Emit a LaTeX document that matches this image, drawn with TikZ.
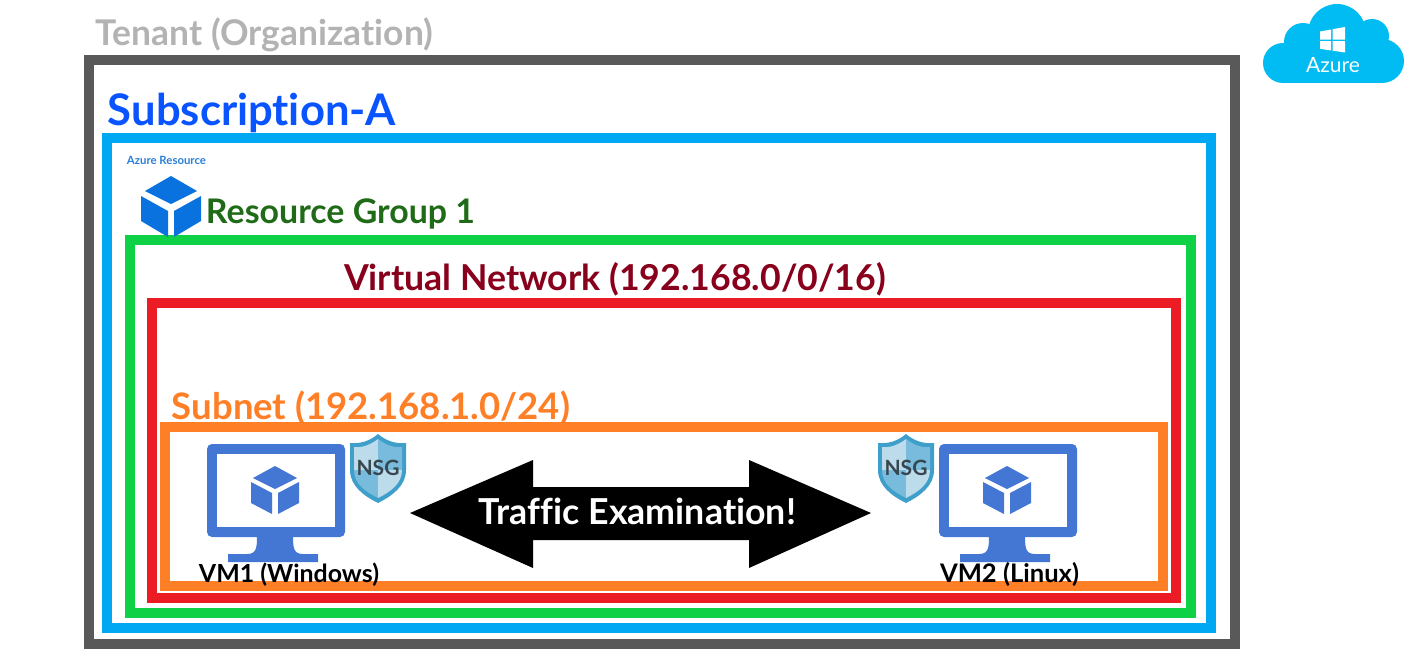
\documentclass[tikz,border=0pt]{standalone}
\usepackage{fontspec}
\setmainfont{Lato}[BoldFont={Lato Bold},Ligatures={NoCommon}]
\usepackage{graphicx}
\definecolor{tenantc}{HTML}{595959}
\definecolor{tenanttxt}{HTML}{B3B3B3}
\definecolor{subc}{HTML}{00A8F3}
\definecolor{subtxt}{HTML}{0A54FF}
\definecolor{rgc}{HTML}{0ED145}
\definecolor{rgtxt}{HTML}{1F6B17}
\definecolor{vnetc}{HTML}{EC1C24}
\definecolor{vnettxt}{HTML}{88001B}
\definecolor{subnetc}{HTML}{FF7F27}
\definecolor{vmblue}{HTML}{4477D3}
\definecolor{cubeblue}{HTML}{0A72DF}
\definecolor{azureres}{HTML}{2A7FD8}
\definecolor{cloudc}{HTML}{00BCF2}
\definecolor{shieldo}{HTML}{3F9FCB}
\definecolor{shieldl}{HTML}{BCDCEC}
\definecolor{shieldm}{HTML}{78BBDC}
\definecolor{nsgtxt}{HTML}{37474F}
\newcommand{\fittext}[3]{\resizebox{#1pt}{!}{\fontsize{#2}{#2}\selectfont\bfseries #3}}
\tikzset{
  frame/.style={line width=10pt,draw=#1},
  lbl/.style={inner sep=0pt,anchor=base,text=#1},
  nsglbl/.style={inner sep=0pt,text=nsgtxt,font=\fontsize{21}{21}\selectfont\bfseries},
  pics/vmicon/.style={code={
    \fill[vmblue,rounded corners=5pt] (0,0) rectangle (138,93);
    \fill[white] (10,10) rectangle (128,83);
    \fill[vmblue] (50,90) .. controls (50,103) and (50,110) .. (40,110) -- (21,110) -- (21,118) -- (111,118) -- (111,110) -- (96,110) .. controls (86,110) and (86,103) .. (86,90) -- cycle;
    \fill[vmblue] (68,22) -- (90,34) -- (68,45) -- (46,34) -- cycle;
    \fill[vmblue] (44,38) -- (65,49) -- (65,70) -- (44,59) -- cycle;
    \fill[vmblue] (71,49) -- (92,38) -- (92,59) -- (71,70) -- cycle;
  }},
  pics/shieldicon/.style={code={
    \fill[shieldo] (28,0) .. controls (36,7) and (46,10) .. (56,9) -- (56,36) .. controls (56,52) and (42,62) .. (28,69) .. controls (14,62) and (0,52) .. (0,36) -- (0,9) .. controls (10,10) and (20,7) .. (28,0) -- cycle;
    \fill[shieldl] (28,5) .. controls (20,11) and (12,14) .. (4,13) -- (4,36) -- (28,36) -- cycle;
    \fill[shieldm] (28,5) .. controls (36,11) and (44,14) .. (52,13) -- (52,36) -- (28,36) -- cycle;
    \fill[shieldm] (4,36) .. controls (4,50) and (16,58) .. (28,64) -- (28,36) -- cycle;
    \fill[shieldl] (52,36) .. controls (52,50) and (40,58) .. (28,64) -- (28,36) -- cycle;
  }}
}
\begin{document}
\begin{tikzpicture}[x=1pt,y=-1pt]
\useasboundingbox (0,0) rectangle (1416,664);
\fill[white] (0,0) rectangle (1416,664);
% frames
\draw[frame=tenantc] (89,60) rectangle (1235,644);
\draw[frame=subc] (107,138) rectangle (1211,628);
\draw[frame=rgc] (130,240) rectangle (1191,613);
\draw[frame=vnetc] (152,303) rectangle (1176,598);
\draw[frame=subnetc] (164.5,427) rectangle (1163,586);
% labels
\node[lbl=tenanttxt] (tenant) at (264.5,45) {\fittext{337}{32}{Tenant (Organization)}};
\node[lbl=subtxt] (sub) at (252,125) {\fittext{288}{42}{Subscription-A}};
\node[lbl=azureres] (azres) at (166.5,164) {\fittext{79}{9}{Azure Resource}};
\node[lbl=rgtxt] (rg) at (340.5,223) {\fittext{269}{32}{Resource Group 1}};
\node[lbl=vnettxt] (vnet) at (615,290) {\fittext{542}{32}{Virtual Network (192.168.0/0/16)}};
\node[lbl=subnetc] (subnet) at (371,419) {\fittext{398}{31}{Subnet (192.168.1.0/24)}};
% resource cube
\fill[cubeblue] (171,176) -- (197,191) -- (171,204) -- (145,191) -- cycle;
\fill[cubeblue] (141,196) -- (168,211) -- (168,237) -- (141,221) -- cycle;
\fill[cubeblue] (174,211) -- (201,196) -- (201,221) -- (174,237) -- cycle;
% vm icons
\pic at (207,444) {vmicon};
\pic at (939,444) {vmicon};
\pic at (350,434) {shieldicon};
\pic at (878,434) {shieldicon};
\node[nsglbl] (nsg1) at (378,468) {NSG};
\node[nsglbl] (nsg2) at (906,468) {NSG};
% arrow
\fill[black] (410,513) -- (533,460) -- (533,487) -- (749,487) -- (749,460) -- (871,513) -- (749,568) -- (749,540) -- (533,540) -- (533,568) -- cycle;
\node[lbl=white] (traffic) at (637.5,524) {\fittext{317}{32}{Traffic Examination!}};
\node[lbl=black] (vm1) at (289,582) {\fittext{180}{24}{VM1 (Windows)}};
\node[lbl=black] (vm2) at (1009.5,582) {\fittext{139}{24}{VM2 (Linux)}};
% cloud
\fill[cloudc] (1283,63) circle (20);
\fill[cloudc] (1303,42) circle (19);
\fill[cloudc] (1337,33) circle (29);
\fill[cloudc] (1372,36) circle (17);
\fill[cloudc] (1382,61) circle (22);
\fill[cloudc] (1283,45) rectangle (1382,83);
\fill[white] (1320,31.5) -- (1331,29.5) -- (1331,39.5) -- (1320,39.5) -- cycle;
\fill[white] (1332.5,29.2) -- (1345,27) -- (1345,39.5) -- (1332.5,39.5) -- cycle;
\fill[white] (1320,41) -- (1331,41) -- (1331,50.5) -- (1320,48.8) -- cycle;
\fill[white] (1332.5,41) -- (1345,41) -- (1345,52.5) -- (1332.5,50.7) -- cycle;
\node[inner sep=0pt,text=white,font=\fontsize{21}{21}\selectfont] (azure) at (1333,65) {Azure};
\end{tikzpicture}
\end{document}
